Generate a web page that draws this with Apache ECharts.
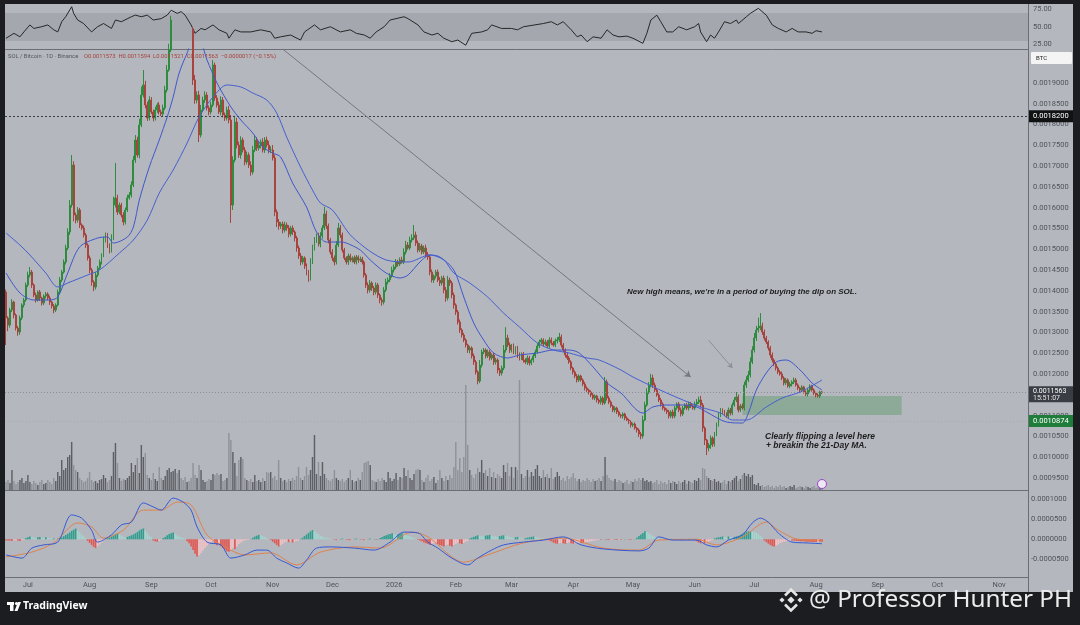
<!DOCTYPE html>
<html><head><meta charset="utf-8">
<script src="https://cdn.jsdelivr.net/npm/echarts@6/dist/echarts.min.js"></script>
<style>html,body{margin:0;padding:0;background:#1c1d20;overflow:hidden}#c{width:1080px;height:625px}</style>
</head><body><div id="c"></div>
<script>
// Units: prices in 1e-7 BTC, MACD in 1e-6 BTC
const startDate = '2025-06-20';
const totalDays = 514;
const firstOpen = 13975;
const closes = [
13350,13182,13543,13735,13422,13110,13014,13350,13663,13783,14144,14384,14456,14144,13903,13783,13975,13831,13711,13879,
13927,13831,13735,13639,13543,13663,13975,14264,14456,14697,15033,15418,16067,17028,15826,15706,15947,15586,15514,15346,
15105,14793,14504,14216,14096,14384,14552,14697,14865,15225,15346,15105,14985,15273,16067,16235,15899,16067,15826,15658,
15947,16235,16307,16548,17149,17629,17269,17990,18711,18952,18471,18158,18591,18303,18158,18351,18471,18303,18254,18399,
18831,19312,19793,20514,20875,21235,21115,21476,21235,20995,20755,20875,20634,20274,19072,18591,18711,17750,18351,18591,
18711,18399,18303,18471,19432,18639,18471,18303,18591,18230,18158,18351,18110,16067,17149,18062,17509,17269,17629,17389,
17101,17269,17028,16860,17389,17629,17437,17509,17581,17389,17629,17509,17389,17389,17197,15899,15658,15562,15610,15466,
15586,15514,15370,15514,15418,15273,15033,14841,14697,14793,14600,14456,14312,14697,15033,15225,15322,15129,15322,15514,
15850,15562,15225,14937,14793,14697,15105,15514,15346,14985,14793,14697,14841,14745,14793,14697,14817,14745,14769,14697,
14384,14144,14023,14192,14071,13975,14144,13903,13783,13735,14023,14216,14264,14360,14504,14576,14697,14648,14745,14697,
14937,15105,15033,15225,15273,15346,15153,14985,15081,14937,15033,14865,14817,14456,14264,14360,14456,14264,14192,14312,
14023,13831,14264,14192,13903,13663,13495,13254,13062,12942,12821,12701,12581,12629,12437,12293,12052,11836,12220,12533,
12581,12437,12533,12389,12461,12293,12341,12100,12028,12148,12581,12869,12701,12581,12677,12533,12629,12461,12389,12485,
12341,12293,12389,12268,12341,12437,12533,12677,12773,12821,12725,12773,12677,12821,12749,12701,12797,12821,12894,12701,
12581,12461,12389,12293,12148,12052,11956,11860,11956,11860,11764,11667,11619,11571,11499,11427,11475,11379,11331,11427,
11307,11812,11427,11331,11235,11139,11187,11091,11018,10994,11042,10946,10898,10850,10778,10802,10706,10658,10562,10514,
10898,11259,11571,11740,11908,11740,11619,11499,11379,11283,11187,11139,11091,10994,11091,10994,11187,11283,11139,11042,
11187,11259,11187,11283,11235,11187,11283,11331,11379,11259,10706,10417,10225,10297,10465,10321,10562,10778,11018,11139,
11091,11042,10994,11139,11066,11259,11379,11451,11139,11235,11187,11740,11860,11980,12293,12581,12869,13062,13110,13158,
13014,12869,12773,12629,12461,12341,12244,12148,12052,12004,11908,11788,11860,11716,11764,11812,11860,11740,11667,11619,
11692,11571,11523,11619,11716,11619,11547,11499,11475,11573,11563];
const wickUp = [
60,40,50,70,30,40,50,60,40,50,60,80,120,50,40,60,40,50,30,40,
50,40,60,30,50,40,60,70,50,60,80,90,120,240,90,60,70,50,40,60,
50,40,60,50,40,70,50,60,40,80,60,50,40,90,200,840,80,60,50,70,
60,80,70,90,100,120,80,150,200,360,100,80,90,70,60,80,50,70,60,80,
100,120,150,100,120,150,90,100,80,120,100,90,80,100,80,120,90,100,120,80,
90,70,60,80,120,60,70,80,90,70,60,80,100,120,90,150,100,80,90,60,
70,80,60,90,100,120,70,80,60,90,70,80,100,90,120,80,60,70,50,60,
80,60,70,50,60,40,50,60,70,50,40,60,50,90,80,70,60,80,90,70,
170,80,60,50,70,60,90,120,70,60,50,40,60,50,40,60,50,40,60,50,
40,50,60,70,40,50,60,50,40,60,70,80,60,70,80,60,70,50,60,80,
90,100,70,80,90,240,80,60,70,50,60,80,70,50,60,40,50,60,70,50,
60,70,100,60,50,60,40,50,60,40,50,40,30,50,40,60,50,40,120,60,
50,40,60,50,40,60,50,40,50,60,120,260,80,60,50,60,40,50,60,40,
50,40,60,50,40,50,60,70,60,50,40,60,50,70,60,50,60,70,100,60,
50,40,60,50,40,30,40,50,40,30,40,50,40,30,40,50,40,30,40,50,
40,120,60,50,40,30,40,30,40,30,40,30,40,30,40,30,40,30,40,50,
100,80,90,70,100,80,60,50,40,50,40,30,40,50,40,60,50,40,50,60,
50,40,50,60,50,40,60,70,80,100,50,40,30,50,60,40,50,60,70,50,
40,50,40,60,50,60,70,120,60,50,60,80,90,100,110,90,120,100,250,310,
80,60,50,40,50,60,40,50,40,50,60,40,50,40,50,40,60,50,40,30,
40,30,40,50,40,30,40,30,40,30,21];
const wickDn = [
650,150,60,50,80,60,90,70,50,60,40,50,60,70,50,60,40,70,60,50,
60,50,70,60,80,50,40,60,50,40,60,50,70,60,150,80,60,70,50,60,
70,60,80,90,100,60,50,40,60,50,60,70,80,60,50,60,70,50,60,80,
60,50,40,60,50,70,60,80,50,60,80,70,60,50,80,60,70,60,50,60,
50,60,40,50,60,70,80,60,70,90,60,70,80,100,120,90,80,170,60,50,
70,60,80,60,50,70,60,50,80,60,70,60,80,430,120,60,80,70,90,60,
80,60,70,90,60,50,70,60,80,60,70,60,80,70,60,100,120,90,70,80,
60,70,80,60,70,80,90,70,80,60,70,80,90,60,50,60,70,60,80,60,
50,70,80,60,70,80,60,50,70,60,50,60,70,50,60,50,60,70,50,60,
60,70,80,60,70,80,60,70,80,90,60,50,60,50,40,60,50,60,50,40,
50,60,40,50,60,50,70,60,50,60,50,60,70,80,60,70,60,50,70,60,
80,90,60,70,80,90,70,60,70,60,50,60,70,80,60,70,60,80,50,60,
50,60,50,60,50,70,60,80,70,60,50,60,50,70,60,50,60,70,60,50,
60,50,70,60,50,60,50,40,50,60,50,40,50,60,50,40,50,60,50,60,
50,60,50,40,50,60,50,60,50,40,50,60,50,60,50,40,50,60,50,60,
50,40,60,50,40,50,60,50,40,50,60,50,40,50,60,50,40,60,70,80,
60,50,40,50,60,70,50,40,50,60,50,40,50,60,50,60,50,40,50,60,
50,40,50,60,50,40,50,60,50,60,90,120,170,80,90,70,60,50,40,50,
60,50,40,50,60,50,40,50,60,50,40,60,70,50,60,50,60,70,60,50,
70,60,50,60,70,60,50,60,50,40,50,60,50,40,50,60,50,40,50,60,
50,40,50,60,50,40,50,60,40,50,42];
const volumes = [
8,10,7,20,9,6,8,10,12,7,9,15,8,6,9,7,5,8,10,6,
7,10,8,6,12,9,18,14,30,20,22,33,35,48,25,20,18,12,10,8,
9,12,18,10,8,9,7,10,11,15,12,8,10,14,38,47,27,12,9,11,
10,12,14,27,18,25,32,17,45,33,37,15,12,10,17,11,9,23,12,10,
14,20,22,18,19,21,17,20,12,10,13,8,9,12,27,15,12,25,20,10,
8,9,11,10,16,15,17,15,16,9,10,12,57,50,38,27,14,30,33,31,
12,10,9,11,8,15,9,10,8,12,9,18,17,18,12,14,10,30,12,9,
10,8,11,9,12,10,14,23,12,10,14,23,15,20,33,55,16,28,14,28,
16,12,10,9,11,20,12,10,9,11,8,10,12,20,10,8,9,12,10,18,
27,28,29,25,10,9,8,11,9,12,10,8,18,12,9,11,17,10,13,12,
22,14,20,12,10,16,20,21,20,10,8,12,15,9,11,13,7,10,20,12,
9,14,10,15,12,23,48,20,32,18,33,105,45,20,15,12,16,22,18,30,
17,20,14,22,13,18,12,16,14,12,25,18,27,14,23,12,23,20,110,16,
12,14,20,13,18,14,21,25,14,12,20,13,16,12,22,11,13,18,14,10,
12,9,14,11,13,17,12,9,11,8,10,9,12,10,8,11,9,10,12,9,
14,33,15,12,10,9,11,8,10,9,7,8,10,6,9,8,11,9,12,10,
12,9,10,8,9,7,8,10,6,9,7,8,6,10,7,9,8,6,9,7,
8,10,6,9,8,7,10,9,12,10,22,21,14,12,10,9,11,8,9,7,
8,10,6,9,8,10,12,14,9,11,15,17,14,16,13,15,6,5,7,4,
5,3,4,5,3,4,2,4,3,5,3,4,2,3,4,3,5,2,3,4,
3,2,4,3,2,3,4,2,3,3,2];
const maFast = [[0,14432],[7,13951],[14,13783],[22,13783],[26,13855],[31,14432],[37,15057],[46,15273],[51,15298],[54,15153],[61,15298],[64,15538],[67,16187],[72,16980],[77,17629],[81,18182],[84,18663],[87,19240],[91,19721],[94,20033],[97,20033],[101,19553],[106,19000],[113,18423],[118,18110],[124,17798],[129,17461],[134,17317],[138,17221],[144,16596],[151,16019],[156,15418],[161,15177],[168,15177],[171,15153],[178,14985],[183,14745],[191,14432],[198,14312],[202,14384],[208,14697],[213,14865],[218,14817],[225,14504],[230,13855],[235,13230],[240,12821],[245,12509],[252,12389],[258,12461],[267,12509],[275,12581],[283,12581],[288,12509],[295,12172],[302,11788],[309,11547],[320,11066],[325,11211],[332,11259],[340,11259],[347,11211],[352,11091],[362,10850],[370,10826],[373,11066],[377,11619],[382,12028],[387,12293],[392,12341],[399,12100],[405,11788],[410,11619]];
const maSlow = [[0,15394],[7,15105],[12,14865],[20,14432],[26,14096],[31,14192],[41,14384],[47,14504],[57,14913],[64,15225],[71,15706],[77,16355],[84,16908],[91,17557],[97,18182],[104,18663],[111,18952],[118,18904],[124,18759],[131,18591],[136,18279],[141,17702],[148,16980],[154,16427],[158,16115],[164,15947],[174,15298],[191,14745],[202,14697],[213,14865],[220,14745],[225,14432],[233,14192],[242,13855],[250,13470],[258,13134],[267,12749],[275,12581],[283,12509],[292,12389],[298,12341],[309,12100],[315,11932],[332,11547],[349,11211],[359,11066],[365,10898],[372,10898],[382,11211],[390,11427],[399,11571],[410,11860]];
const rsi = [[0,33.9],[4,41],[7,36],[9,43],[12,53],[14,48],[18,50.5],[21,53],[24,46],[26,43],[28,57.6],[30,64.7],[33,79],[34,69.5],[36,60],[39,55],[43,43],[46,50.4],[49,55],[53,48],[55,60],[58,57.6],[63,64.7],[65,67],[68,64.7],[71,67],[74,60],[78,62],[81,67],[83,74],[86,69.5],[88,72],[90,67],[93,53],[95,41],[98,48],[100,46],[104,53],[107,46],[111,41],[112,34],[115,46],[118,43],[123,43],[128,46],[133,43],[135,34],[138,36],[143,38.6],[148,31.4],[150,43],[155,53],[158,46],[163,50.4],[168,43],[173,46],[176,41],[180,38.6],[183,34],[186,43],[190,50.4],[193,60],[196,62],[200,64.7],[202,62],[207,53],[210,43],[214,38.6],[217,41],[220,34],[224,29],[227,31.4],[231,24],[234,41],[239,43],[242,46],[244,53],[249,48],[254,48],[257,46],[260,50.4],[270,55],[274,57.6],[277,53],[280,57.6],[284,46],[287,36],[289,38.6],[292,29],[295,36],[299,34],[302,46],[305,38.6],[308,36],[312,37],[315,34],[320,26.7],[322,41],[324,60],[327,67],[329,57.6],[332,43],[335,43],[338,50.4],[342,46],[346,50.4],[348,55],[349,43],[352,29],[354,38.6],[356,34],[358,43],[361,57.6],[364,55],[367,60],[368,55],[372,64.7],[374,69.5],[378,76.7],[379,74],[382,67],[385,53],[388,48],[392,43],[395,48],[398,43],[402,43],[405,41],[407,44.7],[410,43]];
const macdLine = [[0,-39],[8,-47],[13,-22],[19,-14],[26,-7],[33,61],[38,53],[43,23],[46,-7],[53,11],[58,36],[63,43],[69,91],[74,81],[78,73],[84,103],[89,93],[93,73],[96,31],[101,-7],[108,-14],[113,-47],[120,-39],[126,-27],[131,-27],[136,-47],[141,-59],[147,-72],[151,-52],[156,-22],[163,-19],[175,-22],[185,-27],[193,-7],[200,18],[207,16],[212,-7],[217,-22],[224,-47],[232,-64],[237,-47],[244,-27],[250,-14],[260,-7],[270,-2],[280,6],[289,-14],[300,-24],[318,-29],[323,-22],[328,6],[335,-2],[347,-2],[352,-14],[357,-19],[363,-2],[370,11],[375,41],[379,53],[383,43],[388,16],[395,-7],[402,-9],[410,-11]];
const signalLine = [[0,-44],[13,-32],[24,-9],[36,41],[43,31],[49,3],[59,23],[69,73],[78,73],[86,93],[93,86],[101,11],[110,-19],[120,-39],[133,-34],[146,-64],[158,-32],[175,-19],[188,-22],[204,18],[212,6],[230,-57],[242,-39],[260,-9],[280,3],[300,-22],[318,-27],[328,-2],[347,0],[357,-14],[370,6],[382,43],[388,23],[398,0],[410,-2]];
const macdHist = [
-3,-3,-3,-4,-3,-2,-3,-4,-2,-1,3,5,7,6,4,3,5,6,4,3,5,4,3,2,2,1,2,3,
5,8,11,14,17,21,24,27,22,17,12,7,3,-4,-9,-14,-19,-22,-18,-13,-8,-4,-1,2,4,
7,10,13,15,12,9,6,4,6,8,10,12,15,18,22,25,27,22,16,10,6,-3,-5,-6,-4,-2,3,6,10,13,
15,17,14,10,7,5,3,2,-5,-10,-18,-27,-36,-43,-40,-35,-28,-22,-16,-11,-7,-4,
-10,-15,-12,-18,-22,-26,-30,-31,-27,-22,-25,-18,-12,-8,-5,-3,-2,-1,1,
4,7,9,11,10,8,6,3,1,-2,-6,-10,-14,-18,-15,-12,-8,-6,-7,-5,-8,-6,-4,-3,1,4,8,
12,16,20,23,21,17,13,9,7,5,4,3,2,1,
-1,-2,-1,1,2,1,-1,-2,-2,-1,1,2,1,-1,-1,-2,-1,1,2,1,1,-1,1,
3,6,8,10,12,13,15,13,11,12,14,15,13,11,9,7,5,3,1,-1,-3,
-5,-8,-10,-12,-14,-12,-10,-9,-12,-15,-16,-18,-15,-13,-16,-18,-14,-11,-8,-10,-12,-9,-6,-4,
2,4,6,8,10,9,8,7,9,10,11,9,8,7,6,8,9,10,9,8,6,5,4,5,6,4,3,2,
3,4,5,6,7,6,5,4,3,2,1,-1,-3,-5,
-8,-10,-11,-10,-9,-10,-11,-9,-8,-10,-11,-10,-9,-8,-9,-10,-8,-7,-6,-5,-4,-3,
-2,-1,-1,0,1,-1,-2,-1,0,-1,-2,-1,-1,0,1,0,-1,-1,0,1,
4,8,12,16,20,18,15,12,8,
5,3,2,1,0,-1,-1,0,1,1,0,-1,0,1,0,-1,0,1,1,0,
-2,-5,-8,-10,-9,-10,-8,-6,-4,-2,
2,4,5,6,7,6,5,7,6,5,6,7,8,
11,14,17,19,20,20,19,18,16,13,9,5,
-3,-7,-11,-14,-17,-18,-16,-13,-10,-8,-6,-5,-4,-3,
-3,-3,-4,-4,-5,-5,-5,-6,-6,-6,-7,-7,-7,-6,-6,-6];
const priceTicks = [19000,18500,18000,17500,17000,16500,16000,15500,15000,14500,14000,13500,13000,12500,12000,11500,11000,10500,10000,9500];
const rsiTicks = [25,50,75];
const macdTicks = [100,50,0,-50];
const monthNames = ['Jan','Feb','Mar','Apr','May','Jun','Jul','Aug','Sep','Oct','Nov','Dec'];
const markedLevel = 18200, lastPrice = 11563, greenLevel = 10874;
const zone = {from: 370, to: 450, top: 11475, bottom: 11018};
const trendLine = [[139,19817],[344,11932]];
const smallArrow = [[353,12817],[365,12149]];
const headerName = 'SOL / Bitcoin · 1D · Binance';
const headerOHLC = 'O0.0011573  H0.0011594  L0.0011521  C0.0011563  −0.0000017 (−0.15%)';
const countdown = '15:51:07';
const noteTop = "New high means, we're in a period of buying the dip on SOL.";
const noteBottom = ['Clearly flipping a level here', '+ breakin the 21-Day MA.'];

const categories = [];
{ const d0 = new Date(startDate + 'T00:00:00Z');
  for (let i = 0; i < totalDays; i++) { const d = new Date(d0.getTime() + i * 86400000); categories.push(d.toISOString().slice(0, 10)); } }
const candles = closes.map((c, i) => { const o = i === 0 ? firstOpen : closes[i - 1]; return [o, c, Math.min(o, c) - wickDn[i], Math.max(o, c) + wickUp[i]]; });

const FONT = 'Roboto, "Liberation Sans", sans-serif';
const AX = '#50535a', LINE = '#6b6e74', PANE = '#b4b7bd';
const chart = echarts.init(document.getElementById('c'), null, {renderer: 'canvas'});
const grids = [{top: 4, height: 45}, {top: 49, height: 441}, {top: 290, height: 200}, {top: 490, height: 87}];
const xAxes = grids.map((g, k) => ({
  type: 'category', gridIndex: k, data: categories, boundaryGap: true,
  axisLine: {show: k !== 2, onZero: false, lineStyle: {color: LINE}}, axisTick: {show: false}, splitLine: {show: false},
  axisLabel: {show: k === 3, color: AX, fontSize: 7.5, fontFamily: FONT, margin: 4,
    interval: (i, v) => v.slice(8) === '01',
    formatter: v => { const m = +v.slice(5, 7); return m === 1 ? v.slice(0, 4) : monthNames[m - 1]; }}
}));
const yBase = (k) => ({type: 'value', gridIndex: k, position: 'right', axisLine: {show: true, lineStyle: {color: LINE}}, axisTick: {show: false}, splitLine: {show: false}});
const lbl = {color: AX, fontSize: 7.5, fontFamily: FONT, margin: 5};
const option = {
  animation: false, backgroundColor: PANE,
  grid: grids.map(g => Object.assign({left: 5, right: 52}, g)),
  xAxis: xAxes,
  yAxis: [
    Object.assign(yBase(0), {min: 18.6, max: 82.9, axisLabel: Object.assign({customValues: rsiTicks, formatter: v => v.toFixed(2)}, lbl)}),
    Object.assign(yBase(1), {min: 9216, max: 19817, axisLabel: Object.assign({customValues: priceTicks, formatter: v => (v / 1e7).toFixed(7)}, lbl)}),
    {type: 'value', gridIndex: 2, min: 0, max: 200, show: false},
    Object.assign(yBase(3), {min: -94.25, max: 123.25, axisLabel: Object.assign({customValues: macdTicks, formatter: v => (v < 0 ? '-' : '') + (Math.abs(v) / 1e6).toFixed(7)}, lbl, {margin: 3})})
  ],
  series: [
    {type: 'line', name: 'RSI', xAxisIndex: 0, yAxisIndex: 0, data: rsi, showSymbol: false, z: 3,
     lineStyle: {color: '#262729', width: 1},
     markArea: {silent: true, itemStyle: {color: '#a4a7ad'}, data: [[{yAxis: 30}, {yAxis: 70}]]}},
    {type: 'bar', name: 'Volume', xAxisIndex: 2, yAxisIndex: 2, data: volumes, barWidth: '72%', z: 1,
     itemStyle: {color: p => { const c = candles[p.dataIndex]; return c[1] >= c[0] ? '#5d5f65' : '#8f9298'; }}},
    {type: 'candlestick', name: 'SOLBTC', xAxisIndex: 1, yAxisIndex: 1, data: candles, barWidth: '72%', z: 4,
     itemStyle: {color: '#2f8c3e', color0: '#633a33', borderColor: '#2f8c3e', borderColor0: '#a8433e', borderWidth: 1},
     markArea: {silent: true, itemStyle: {color: 'rgba(60,140,75,0.32)'}, data: [[{coord: [zone.from, zone.top]}, {coord: [zone.to, zone.bottom]}]]},
     markLine: {silent: true, symbol: ['none', 'none'], label: {show: false}, data: [
       {yAxis: markedLevel, lineStyle: {color: '#3a3c41', type: [2, 2], width: 1}},
       {yAxis: lastPrice, lineStyle: {color: '#8a8d93', type: [1, 2], width: 1}},
       {yAxis: greenLevel, lineStyle: {color: '#a6a9ae', type: [1, 2], width: 1}},
       [{coord: trendLine[0], symbol: 'none'}, {coord: trendLine[1], symbol: 'arrow', symbolSize: 6, lineStyle: {color: '#74777d', width: 1, type: 'solid'}}],
       [{coord: smallArrow[0], symbol: 'none'}, {coord: smallArrow[1], symbol: 'arrow', symbolSize: 5, lineStyle: {color: '#8c8f95', width: 1, type: 'solid'}}]
     ]}},
    {type: 'line', name: 'MA fast', xAxisIndex: 1, yAxisIndex: 1, data: maFast, showSymbol: false, smooth: 0.3, z: 5, lineStyle: {color: '#3f57cc', width: 1}},
    {type: 'line', name: 'MA slow', xAxisIndex: 1, yAxisIndex: 1, data: maSlow, showSymbol: false, smooth: 0.3, z: 5, lineStyle: {color: '#4660d0', width: 1}},
    {type: 'bar', name: 'Hist', xAxisIndex: 3, yAxisIndex: 3, data: macdHist, barWidth: '80%', z: 2,
     itemStyle: {color: p => { const i = p.dataIndex, v = macdHist[i], pv = i ? macdHist[i - 1] : v;
       return v >= 0 ? (v >= pv ? '#2e9f8e' : '#a4d6cf') : (v <= pv ? '#e3564f' : '#f2c2c5'); }}},
    {type: 'line', name: 'MACD', xAxisIndex: 3, yAxisIndex: 3, data: macdLine, showSymbol: false, smooth: 0.3, z: 4, lineStyle: {color: '#3559d6', width: 1}},
    {type: 'line', name: 'Signal', xAxisIndex: 3, yAxisIndex: 3, data: signalLine, showSymbol: false, smooth: 0.3, z: 3, lineStyle: {color: '#e0824c', width: 1}}
  ]
};
chart.setOption(option);

const yP = v => chart.convertToPixel({yAxisIndex: 1}, v);
const R = (x, y, w, h, fill, ex) => Object.assign({type: 'rect', z: 100, shape: {x, y, width: w, height: h}, style: {fill}}, ex || {});
const T = (x, y, text, st) => ({type: 'text', z: 101, x, y, style: Object.assign({text, fill: '#222', fontSize: 8, fontFamily: FONT, align: 'left', verticalAlign: 'middle'}, st || {})});
const dia = (cx, cy, s) => ({type: 'polygon', z: 102, shape: {points: [[cx, cy - s], [cx + s, cy], [cx, cy + s], [cx - s, cy]]}, style: {fill: '#e6e6e6'}});
const yM = yP(markedLevel), yL = yP(lastPrice), yG = yP(greenLevel);
const fmt = v => (v / 1e7).toFixed(7);
const NOTE = {fill: '#1d1d1f', fontStyle: 'italic', fontWeight: 'bold', fontFamily: '"Liberation Sans", sans-serif'};
const gfx = [
  R(0, 0, 1080, 4, '#1c1d20'), R(0, 0, 5, 625, '#1c1d20'), R(1073, 0, 7, 625, '#1c1d20'), R(0, 592, 1080, 33, '#1c1d20'),
  {type: 'line', z: 100, shape: {x1: 1028.5, y1: 577, x2: 1028.5, y2: 592}, style: {stroke: LINE, lineWidth: 1}},
  T(8, 57, headerName, {fill: '#53565c', fontSize: 5.8}),
  T(84, 57, headerOHLC, {fill: '#a8403b', fontSize: 5.8}),
  R(1031, 52, 41, 12, '#f4f4f4', {shape: {x: 1031, y: 52, width: 41, height: 12, r: 1}}),
  T(1036, 58, 'BTC', {fill: '#222', fontSize: 6}),
  R(1029, yM - 6, 44, 12, '#111214'), T(1033, yM, fmt(markedLevel), {fill: '#fff', fontSize: 7.5}),
  R(1029, yL - 6, 44, 16, '#3a3d43'), T(1033, yL - 1.5, fmt(lastPrice), {fill: '#fff', fontSize: 7}), T(1033, yL + 5.5, countdown, {fill: '#e8e8e8', fontSize: 7}),
  R(1029, yG - 6, 44, 12, '#1f7d3b'), T(1033, yG, fmt(greenLevel), {fill: '#fff', fontSize: 7.5}),
  T(627, 292, noteTop, Object.assign({fontSize: 8}, NOTE)),
  T(765, 437, noteBottom[0], Object.assign({fontSize: 8.5}, NOTE)),
  T(766, 446, noteBottom[1], Object.assign({fontSize: 8.5}, NOTE)),
  {type: 'circle', z: 102, shape: {cx: 822, cy: 484, r: 4.5}, style: {fill: '#f1e6f6', stroke: '#9446c4', lineWidth: 1}},
  T(822, 484, '$', {fill: '#9446c4', fontSize: 6, align: 'center', fontWeight: 'bold'}),
  R(7, 602, 7, 3, '#ffffff'), R(10, 602, 3.5, 9, '#ffffff'),
  {type: 'circle', z: 101, shape: {cx: 16.5, cy: 603.5, r: 1.6}, style: {fill: '#ffffff'}},
  {type: 'polygon', z: 101, shape: {points: [[14.5, 611], [18, 602], [21, 602], [17.5, 611]]}, style: {fill: '#ffffff'}},
  T(23, 606.5, 'TradingView', {fill: '#ffffff', fontSize: 10.5, fontWeight: 'bold', fontFamily: '"Noto Sans", sans-serif'}),
  dia(791, 600, 3.6), dia(782, 600, 2.6), dia(800, 600, 2.6),
  {type: 'polyline', z: 102, shape: {points: [[785, 595.5], [791, 589.5], [797, 595.5]]}, style: {stroke: '#e6e6e6', lineWidth: 2.6, fill: null}},
  {type: 'polyline', z: 102, shape: {points: [[785, 604.5], [791, 610.5], [797, 604.5]]}, style: {stroke: '#e6e6e6', lineWidth: 2.6, fill: null}},
  T(809, 600, '@ Professor Hunter PH', {fill: '#ececec', fontSize: 24.3, fontFamily: '"Noto Sans", sans-serif'})
];
chart.setOption({graphic: gfx});
</script></body></html>
